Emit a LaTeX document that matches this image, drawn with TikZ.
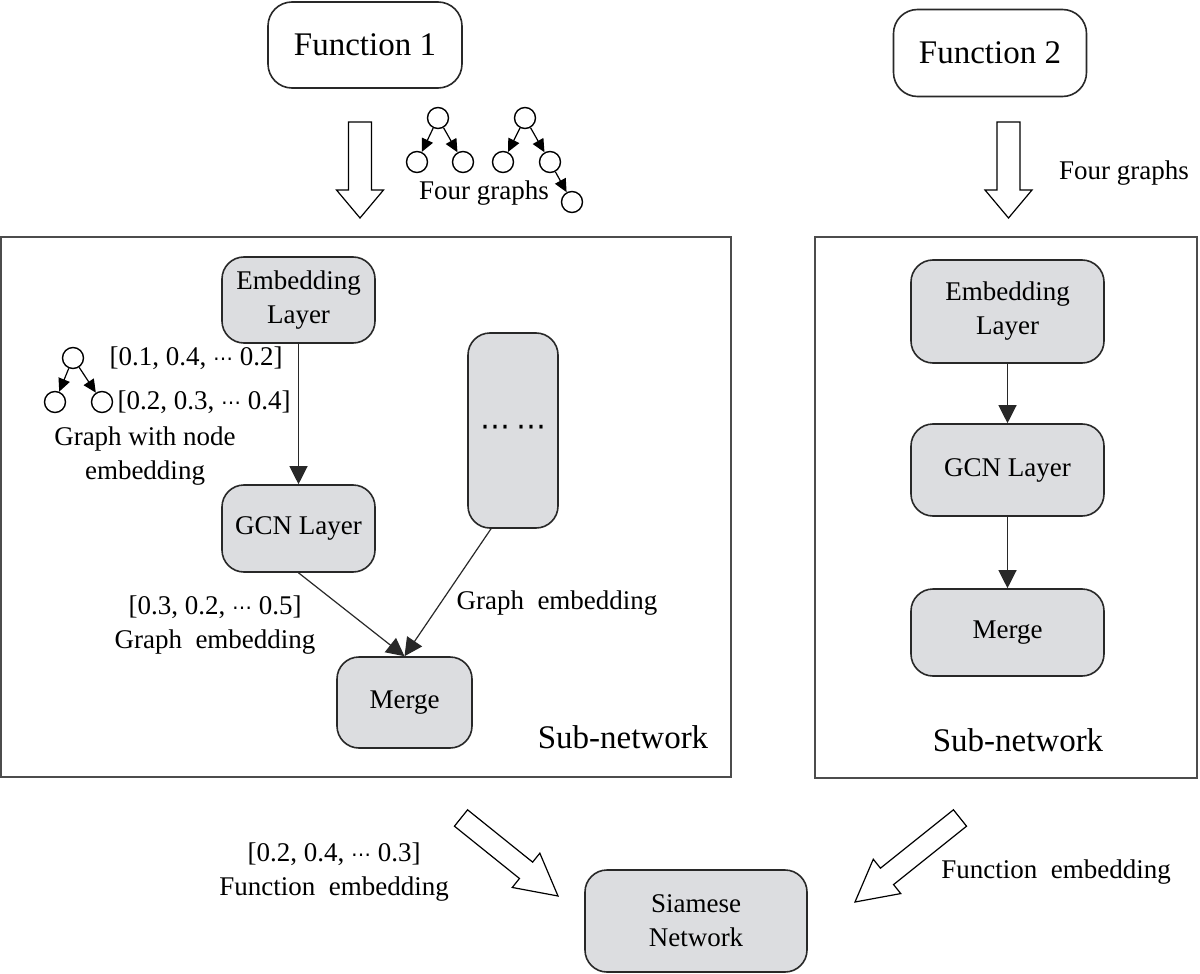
\documentclass[tikz,border=0pt]{standalone}
\usepackage{fontspec}
\setmainfont{Liberation Serif}
\newfontfamily\djv{DejaVu Sans}
\usetikzlibrary{arrows.meta,calc}
\definecolor{boxgray}{RGB}{220,221,224}
\definecolor{lineg}{RGB}{40,40,40}
\newcommand\hollowarr[5]{%
  \coordinate (hh) at ($(#2)!#5!(#1)$);
  \draw[hollow] ($(#1)!#3!90:(#2)$) -- ($(hh)!#3!-90:(#1)$) -- ($(hh)!#4!-90:(#1)$) -- (#2)
    -- ($(hh)!#4!90:(#1)$) -- ($(hh)!#3!90:(#1)$) -- ($(#1)!#3!-90:(#2)$) -- cycle;}
\newcommand\cdt{{\djv\fontsize{10}{12}\selectfont ⋯}}
\begin{document}
\begin{tikzpicture}[x=0.5pt,y=-0.5pt,
  big/.style={font=\fontsize{16.5}{20}\selectfont},
  small/.style={font=\fontsize{13.5}{17}\selectfont},
  layer/.style={draw=lineg, line width=0.8pt, fill=boxgray, rounded corners=11pt, small, align=center, inner sep=0pt},
  fbox/.style={draw=lineg, line width=0.8pt, fill=white, rounded corners=12pt, big, inner sep=0pt},
  frame/.style={draw=black!70, line width=1pt, inner sep=0pt},
  conn/.style={draw=lineg, line width=0.6pt, -{Triangle[length=9pt,width=9pt]}},
  gnode/.style={circle, draw=black, line width=0.7pt, minimum size=10.5pt, inner sep=0pt},
  garr/.style={line width=0.6pt, -{Triangle[length=6.5pt,width=6pt]}},
  hollow/.style={draw=black, line width=0.6pt, fill=white, line join=miter},
  lbl/.style={small, inner sep=0pt, align=center}
]
\useasboundingbox (0,0) rectangle (1200,974);
\fill[white] (0,0) rectangle (1200,974);

% outer frames
\node[frame, minimum width=365pt, minimum height=270pt] (subL) at (366,507) {};
\node[frame, minimum width=191pt, minimum height=270.5pt] (subR) at (1006,507.5) {};

% function boxes
\node[fbox, minimum width=97pt, minimum height=43pt] (f1) at (365,45) {Function 1};
\node[fbox, minimum width=96.5pt, minimum height=43.5pt] (f2) at (990,53) {Function 2};

% left column
\node[layer, minimum width=76.5pt, minimum height=43pt] (embL) at (298.5,300) {Embedding\\Layer};
\node[layer, minimum width=76.5pt, minimum height=43.5pt] (gcnL) at (298.5,528.5) {GCN Layer};
\node[layer, minimum width=45pt, minimum height=97.5pt, font=\djv\fontsize{15}{16}\selectfont] (dots) at (513,430.5) {⋯\hspace{3pt}⋯};
\node[layer, minimum width=67.5pt, minimum height=45.5pt] (mergeL) at (404.5,702.5) {Merge};

% right column
\node[layer, minimum width=96.5pt, minimum height=51.5pt] (embR) at (1007.5,311.5) {Embedding\\Layer};
\node[layer, minimum width=96.5pt, minimum height=46pt] (gcnR) at (1007.5,470) {GCN Layer};
\node[layer, minimum width=96.5pt, minimum height=43.5pt] (mergeR) at (1007.5,632.5) {Merge};

% siamese
\node[layer, minimum width=111pt, minimum height=51pt] (siam) at (696,921) {Siamese\\Network};

% connectors
\draw[conn] (embL) -- (gcnL);
\draw[conn] (gcnL.south) -- (mergeL.north);
\draw[conn] ($(dots.south)+(-22,0)$) -- (mergeL.north);
\draw[conn] (embR) -- (gcnR);
\draw[conn] (gcnR) -- (mergeR);

% hollow arrows
\coordinate (h1a) at (360,122);
\coordinate (h1b) at (360,218);
\coordinate (h2a) at (1008.5,122);
\coordinate (h2b) at (1008.5,218);
\coordinate (h3a) at (461,818);
\coordinate (h3b) at (558,896);
\coordinate (h4a) at (960,818);
\coordinate (h4b) at (855,902);
\hollowarr{h1a}{h1b}{5.75pt}{11.75pt}{14pt}
\hollowarr{h2a}{h2b}{5.75pt}{11.75pt}{14pt}
\hollowarr{h3a}{h3b}{5.25pt}{11pt}{20.5pt}
\hollowarr{h4a}{h4b}{5.25pt}{11pt}{20.5pt}

% top small graphs
\node[gnode] (ga1) at (438,118) {};
\node[gnode] (ga2) at (417,162) {};
\node[gnode] (ga3) at (463,162) {};
\draw[garr] (ga1) -- (ga2);
\draw[garr] (ga1) -- (ga3);
\node[gnode] (gb1) at (525,118) {};
\node[gnode] (gb2) at (503,162) {};
\node[gnode] (gb3) at (550,162) {};
\node[gnode] (gb4) at (572,202) {};
\draw[garr] (gb1) -- (gb2);
\draw[garr] (gb1) -- (gb3);
\draw[garr] (gb3) -- (gb4);

% graph inside left box
\node[gnode] (gc1) at (73,358) {};
\node[gnode] (gc2) at (55,402) {};
\node[gnode] (gc3) at (102,402) {};
\draw[garr] (gc1) -- (gc2);
\draw[garr] (gc1) -- (gc3);

% labels
\node[lbl] (fg1) at (484,193) {Four graphs};
\node[lbl] (fg2) at (1124,173) {Four graphs};
\node[lbl] (v1) at (196,358) {[0.1, 0.4, \cdt\ 0.2]};
\node[lbl] (v2) at (204,402) {[0.2, 0.3, \cdt\ 0.4]};
\node[lbl] (gwn) at (145,456) {Graph with node\\embedding};
\node[lbl] (ge1) at (215,625) {[0.3, 0.2, \cdt\ 0.5]\\Graph\ \ embedding};
\node[lbl] (ge2) at (557,603) {Graph\ \ embedding};
\node[big, inner sep=0pt] (sn1) at (623,737) {Sub-network};
\node[big, inner sep=0pt] (sn2) at (1018,740) {Sub-network};
\node[lbl] (fe1) at (334,872) {[0.2, 0.4, \cdt\ 0.3]\\Function\ \ embedding};
\node[lbl] (fe2) at (1056,872) {Function\ \ embedding};
\end{tikzpicture}
\end{document}
